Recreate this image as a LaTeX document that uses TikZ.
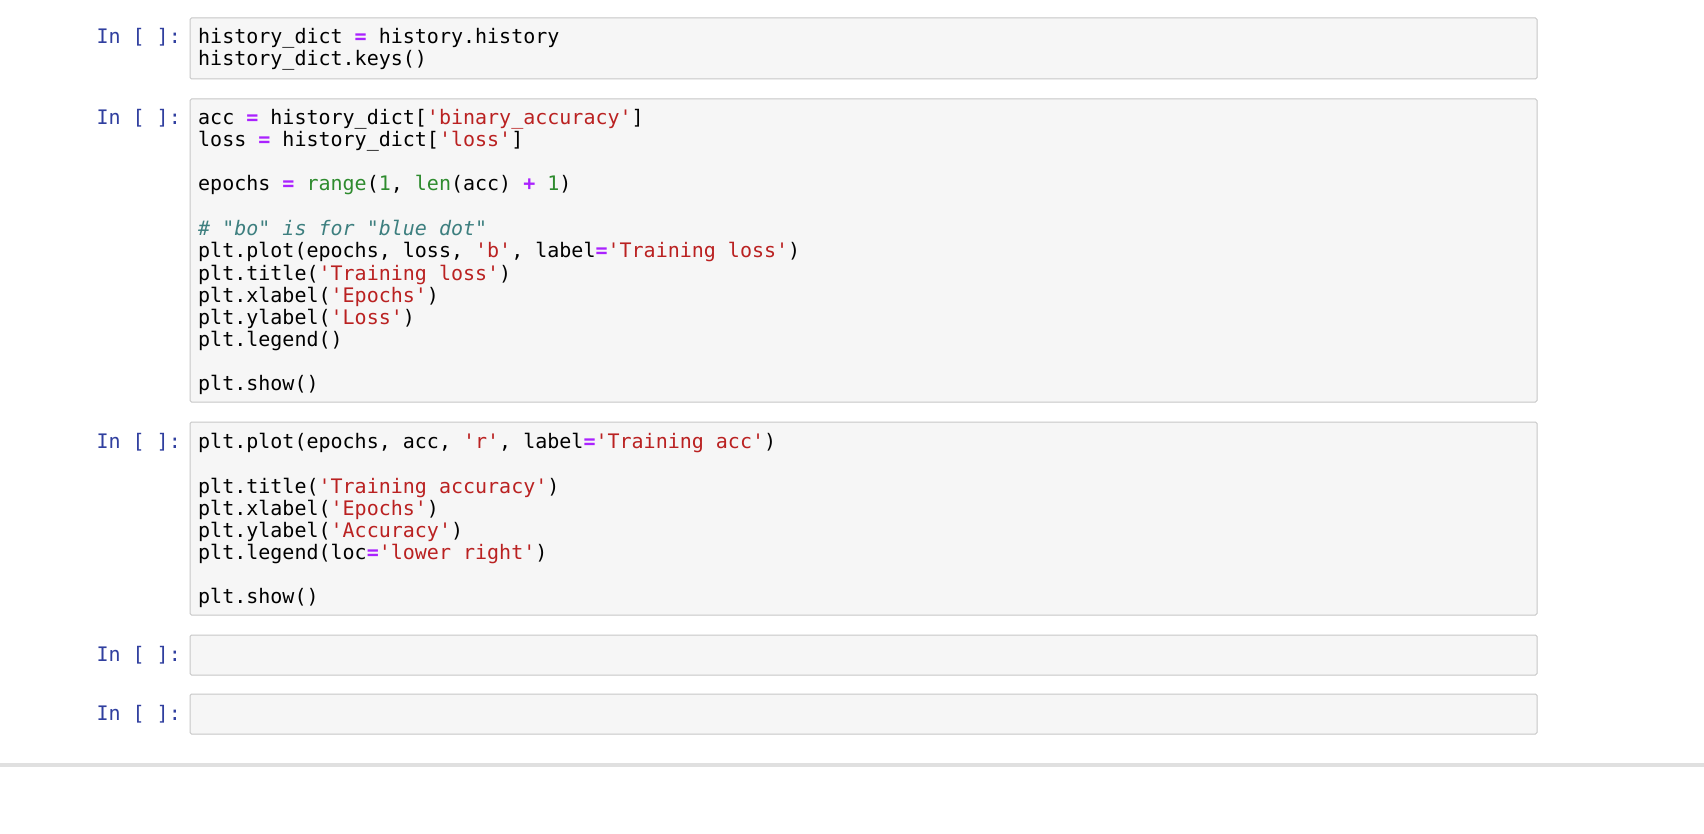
\documentclass[tikz,border=0pt]{standalone}
\usepackage{fontspec}
\setmonofont{DejaVu Sans Mono}
\definecolor{kw}{HTML}{AA22FF}
\definecolor{st}{HTML}{BA2121}
\definecolor{gr}{HTML}{2E8B2E}
\definecolor{cm}{HTML}{3D7F7F}
\definecolor{pr}{HTML}{303F9F}
\newcommand\op[1]{\textcolor{kw}{\textbf{#1}}}
\newcommand\sr[1]{\textcolor{st}{#1}}
\newcommand\gn[1]{\textcolor{gr}{#1}}
\tikzset{
 cell/.style={draw=black!22, fill=black!3.5, line width=1pt, rounded corners=1.5pt},
 code/.style={anchor=base west, inner sep=0pt, font=\ttfamily\fontsize{20}{22}\selectfont},
 prompt/.style={anchor=base east, inner sep=0pt, text=pr, font=\ttfamily\fontsize{20}{22}\selectfont},
}
\begin{document}
\begin{tikzpicture}[x=1pt,y=-1pt]
\useasboundingbox[fill=white] (0,0) rectangle (1704,834);
\fill[black!12] (0,763) rectangle (1704,767);
% cells
\draw[cell] (190,18) rectangle (1537,79);
\draw[cell] (190,99) rectangle (1537,402);
\draw[cell] (190,422) rectangle (1537,615);
\draw[cell] (190,635) rectangle (1537,675);
\draw[cell] (190,694) rectangle (1537,734);
% prompts
\node[prompt] (p1) at (181,44) {In [ ]:};
\node[prompt] (p2) at (181,125) {In [ ]:};
\node[prompt] (p3) at (181,448) {In [ ]:};
\node[prompt] (p4) at (181,661) {In [ ]:};
\node[prompt] (p5) at (181,720) {In [ ]:};
% cell 1
\node[code] (a1) at (198,44) {history\_dict \op{=} history.history};
\node[code] (a2) at (198,66) {history\_dict.keys()};
% cell 2
\node[code] (b1) at (198,125) {acc \op{=} history\_dict[\sr{'binary\_accuracy'}]};
\node[code] (b2) at (198,147) {loss \op{=} history\_dict[\sr{'loss'}]};
\node[code] (b3) at (198,191) {epochs \op{=} \gn{range}(\gn{1}, \gn{len}(acc) \op{+} \gn{1})};
\node[code] (b4) at (198,236) {\textcolor{cm}{\itshape \# "bo" is for "blue dot"}};
\node[code] (b5) at (198,258) {plt.plot(epochs, loss, \sr{'b'}, label\op{=}\sr{'Training loss'})};
\node[code] (b6) at (198,280) {plt.title(\sr{'Training loss'})};
\node[code] (b7) at (198,302) {plt.xlabel(\sr{'Epochs'})};
\node[code] (b8) at (198,324) {plt.ylabel(\sr{'Loss'})};
\node[code] (b9) at (198,346) {plt.legend()};
\node[code] (b10) at (198,390) {plt.show()};
% cell 3
\node[code] (c1) at (198,448) {plt.plot(epochs, acc, \sr{'r'}, label\op{=}\sr{'Training acc'})};
\node[code] (c2) at (198,493) {plt.title(\sr{'Training accuracy'})};
\node[code] (c3) at (198,515) {plt.xlabel(\sr{'Epochs'})};
\node[code] (c4) at (198,537) {plt.ylabel(\sr{'Accuracy'})};
\node[code] (c5) at (198,559) {plt.legend(loc\op{=}\sr{'lower right'})};
\node[code] (c6) at (198,603) {plt.show()};
\end{tikzpicture}
\end{document}
